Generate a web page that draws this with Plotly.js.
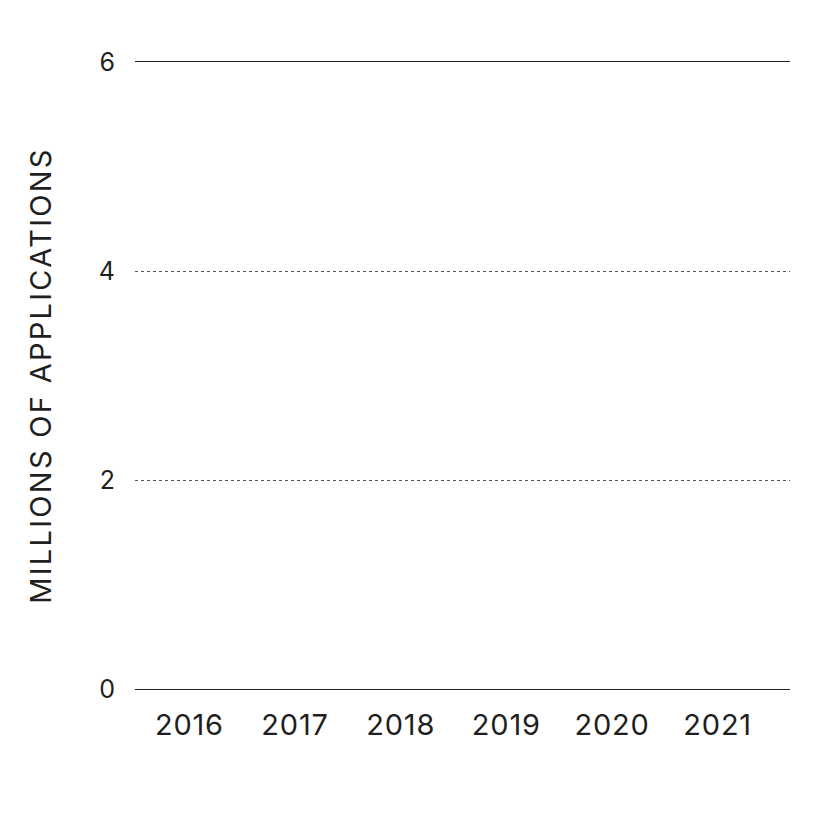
<!DOCTYPE html>
<html>
<head>
<meta charset="utf-8">
<script src="https://cdn.plot.ly/plotly-3.0.1.min.js"></script>
<style>
html,body{margin:0;padding:0;background:#fff;}
#chart{width:834px;height:831px;}
#chart .ytitle{letter-spacing:2.3px;}
#chart .xtick text{letter-spacing:0.8px;}
</style>
</head>
<body>
<div id="chart"></div>
<script>
const years = ["2016", "2017", "2018", "2019", "2020", "2021"];
const applications = [null, null, null, null, null, null];
const yTicks = [0, 2, 4, 6];
const yTitle = "MILLIONS OF APPLICATIONS";

const textColor = "#1f1f1f";
const fontFam = "Inter, 'Noto Sans', sans-serif";

Plotly.newPlot("chart", [{
  type: "bar",
  x: years,
  y: applications,
  marker: {color: "#1f1f1f"},
  hoverinfo: "skip"
}], {
  width: 834,
  height: 831,
  margin: {l: 135, r: 44, t: 62, b: 142},
  paper_bgcolor: "#ffffff",
  plot_bgcolor: "#ffffff",
  showlegend: false,
  font: {family: fontFam, color: textColor},
  xaxis: {
    type: "category",
    range: [-0.515, 5.685],
    showgrid: false,
    showline: true,
    mirror: true,
    linecolor: "#222222",
    linewidth: 1,
    ticks: "outside",
    ticklen: 10,
    tickcolor: "rgba(0,0,0,0)",
    tickfont: {size: 29, family: fontFam, color: textColor},
    fixedrange: true
  },
  yaxis: {
    range: [0, 6],
    tickvals: yTicks,
    ticktext: yTicks.map(String),
    showgrid: true,
    gridcolor: "#555555",
    griddash: "dot",
    gridwidth: 1,
    zeroline: false,
    showline: false,
    ticks: "outside",
    ticklen: 14,
    tickcolor: "rgba(0,0,0,0)",
    tickfont: {size: 25, family: fontFam, color: textColor},
    title: {text: yTitle, font: {size: 29, family: fontFam, color: textColor}, standoff: 38},
    fixedrange: true
  }
}, {displayModeBar: false, staticPlot: true});
</script>
</body>
</html>
